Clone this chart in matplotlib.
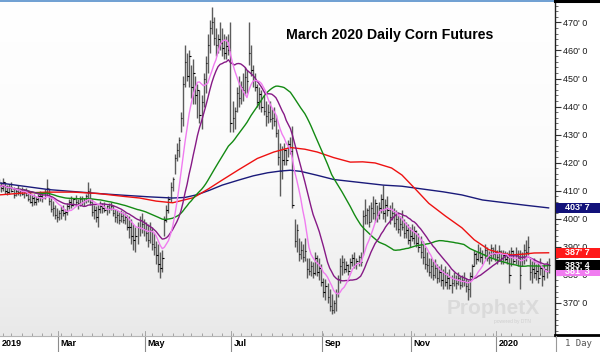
import numpy as np
import pandas as pd
import matplotlib
matplotlib.use('Agg')
import matplotlib.pyplot as plt
from matplotlib import transforms
from matplotlib.patches import Rectangle
from matplotlib.colors import LinearSegmentedColormap
from matplotlib.ticker import MultipleLocator

# trading days, CME holidays removed
holidays = ['2019-01-21', '2019-02-18', '2019-04-19', '2019-05-27', '2019-07-04',
            '2019-09-02', '2019-11-28', '2019-12-25', '2020-01-01', '2020-01-20']
dates = pd.bdate_range('2019-01-17', '2020-02-07', freq='C', holidays=holidays)

high = [414, 413, 414.5, 413, 412, 412.5, 413, 411.5, 411, 412,
        411, 411.5, 410.5, 411, 410, 409.5, 408.5, 409, 408, 409,
        410, 409.5, 410.5, 414, 411, 408, 406.5, 405, 404, 403,
        404.5, 405, 403.5, 405.5, 407, 408, 407.5, 408.5, 407, 408,
        408, 407.5, 409, 413, 411, 407, 405, 404.5, 405, 406.5,
        405.5, 406, 405, 405.5, 406, 405, 403.5, 403, 402.5, 403,
        402.5, 402, 401.5, 401, 400, 398, 397, 399, 401, 402,
        400, 399, 398, 399, 397, 395, 392, 391, 388, 389,
        401, 405, 408, 413, 415, 423, 427, 429, 438, 451,
        462, 459, 460, 455, 457, 451, 448, 446, 444, 452,
        458, 466, 471, 475.5, 472, 468, 466, 470, 468, 466,
        465, 466, 470, 442, 440, 447, 451, 449, 452, 454,
        453, 470, 462, 455, 452, 448, 447, 446, 444, 442,
        441, 442, 439, 440, 437, 432, 427, 426, 427, 425,
        428, 429, 433, 400, 398, 393, 392, 391, 393, 386,
        386, 385, 384.5, 388, 387, 386, 384, 379, 378.5, 377,
        375, 373, 371, 375, 380, 386, 387, 386, 385, 384,
        386, 387.5, 388, 386, 387, 388, 403, 407, 404, 405,
        406, 408, 407, 405, 406, 409, 412, 407, 408, 405,
        406, 404, 403, 402.5, 401, 403, 400, 399, 398, 397,
        398, 397.5, 396, 395, 394, 392, 390, 388, 386, 386,
        385, 385.5, 384, 383, 384, 382, 383, 381, 382, 380,
        381, 380, 381, 379.5, 380, 381, 379, 378, 381, 384,
        389, 388, 391, 390, 389, 391, 390, 388.5, 391, 390,
        391, 389, 390.5, 389, 389, 388.5, 388, 389, 390, 389,
        390, 389, 389, 388, 391, 392.5, 394, 386, 385, 386,
        384, 385, 386, 383, 384, 385, 386]

low = [410, 409.5, 410, 409, 408.5, 409, 409.5, 407.5, 408, 408.5,
       408, 408.5, 407.5, 408, 406.5, 405.5, 404.5, 405, 405, 406,
       406.5, 406, 407, 408, 405, 402.5, 401, 400, 399, 399.5,
       400, 401, 399.5, 401.5, 403.5, 404, 404.5, 405, 403.5, 404.5,
       405, 404.5, 405.5, 406, 405, 401, 400, 399, 397, 402,
       402, 402.5, 401.5, 402, 403, 401, 399, 398.5, 398, 399,
       398.5, 398, 396, 393, 391, 389, 388, 391, 394, 395,
       394, 392, 390, 391.5, 389, 387, 384, 381, 379, 381,
       394, 399, 402, 406, 410, 416, 420.5, 422, 431, 433,
       447, 449, 447, 443, 441, 441, 436, 434, 432, 440,
       445, 452, 459, 466, 462, 458, 459, 460, 458, 457,
       457, 458.5, 431, 431, 432, 438, 440, 441, 442, 444,
       445, 455, 451, 447, 445.5, 440, 439, 438, 437, 433,
       434, 434.5, 432, 433, 429, 419, 408, 414, 419, 419,
       422, 423, 404, 390, 388, 385, 385.5, 384.5, 385, 379,
       380, 379.5, 379, 380, 379.5, 378, 376, 372, 371, 370,
       367, 366, 366.5, 367, 372, 377, 380, 380.5, 381, 380,
       382, 383, 382.5, 382, 383, 383, 387, 398, 398, 397,
       399, 400, 399, 399, 400, 402, 400, 399, 401, 398,
       399.5, 397, 396, 395, 394, 396, 393, 393, 391, 390,
       392, 391, 390, 388, 386, 384, 382, 381, 379.5, 379,
       378, 379, 377, 377.5, 376, 375, 376, 375, 375, 373.5,
       376, 375, 376.5, 375, 375.5, 376, 374, 371, 372, 379,
       383, 384, 385, 384.5, 384, 385.5, 385, 384, 385, 386,
       385, 384, 385, 384, 384, 385, 384, 377, 383, 384,
       384, 383, 375, 383, 384, 385, 387, 378, 377, 379,
       378, 377, 380, 376, 378, 379, 380.5]

close = [412, 411, 413, 410, 409.5, 411.5, 410, 408.5, 410, 409.5,
         410, 409, 409.5, 408.5, 407, 406, 407.5, 406, 407, 408,
         408, 407.5, 409.5, 411, 406.5, 403.5, 404, 401.5, 400.5, 402,
         403, 402, 402.5, 404.5, 406, 405, 407, 406, 405.5, 407,
         406, 406.5, 408, 410, 406, 402.5, 403, 400.5, 403.5, 404.5,
         404, 403, 404.5, 404, 404.5, 402, 400.5, 401.5, 399.5, 401,
         399.5, 400.5, 397, 397, 394, 392.5, 394, 397, 399.5, 398,
         396.5, 395, 392.5, 396, 391, 390, 387, 384, 382.5, 386,
         399.5, 403, 407, 411.5, 414, 421.5, 424.5, 428, 436, 448,
         456, 451, 458, 447, 452, 444, 446, 437, 441.5, 450,
         455.5, 462, 468, 470, 464.5, 462, 464, 462.5, 461, 459,
         461.5, 460, 434, 436, 438.5, 445, 443, 447, 446, 450.5,
         449, 459, 453, 449.5, 447, 441.5, 444.5, 440, 438.5, 436.5,
         438, 435.5, 436, 435, 430.5, 422, 417, 421, 424.5, 421,
         426.5, 424, 405, 392, 396, 387.5, 389, 386.5, 388.5, 382,
         381.5, 383, 380.5, 386, 381, 382.5, 377.5, 374, 376, 372,
         369, 367.5, 370, 373.5, 378.5, 383, 384.5, 382, 383.5, 381.5,
         384.5, 386, 383.5, 385, 386.5, 384.5, 401, 401.5, 403, 399,
         404, 402, 405.5, 401.5, 404, 407, 402, 405, 403, 400.5,
         402, 398.5, 400, 396.5, 398, 397, 395, 396, 392.5, 394,
         393, 395.5, 391.5, 390, 388, 386.5, 384, 383.5, 381, 383,
         380, 382.5, 379, 381, 378, 380.5, 377.5, 379, 376.5, 377,
         378.5, 377, 379, 376.5, 378, 377.5, 376, 375, 379.5, 383,
         387.5, 385.5, 388, 386.5, 387.5, 389, 386, 387, 389.5, 387.5,
         388, 386.5, 388.5, 386, 387, 385.5, 386.5, 380, 388.5, 385,
         387.5, 386, 380, 386.5, 389, 388, 390, 381, 382, 380.5,
         381.5, 379, 382.5, 379.5, 382, 381.5, 383.5]

# 100 and 200 day averages (they need history before the first bar)
red_idx = [0, 12, 24, 36, 48, 60, 68, 76, 84, 94, 101, 108, 116, 125, 133, 141, 148,
           154, 162, 170, 176, 182, 190, 195, 201, 208, 216, 224, 230, 237, 243, 248,
           254, 259, 266]
red_val = [408.5, 409.2, 409.5, 409.5, 409.0, 408.0, 407.4, 406.3, 405.7, 407.5, 410.5,
           413.8, 417.5, 421.5, 423.8, 425.4, 424.8, 423.8, 421.8, 420.2, 420.3, 419.9,
           418.1, 415.6, 411.0, 405.5, 401.0, 396.8, 392.5, 389.0, 387.7, 387.1, 387.4,
           387.8, 387.875]
blue_idx = [0, 12, 24, 36, 48, 60, 73, 84, 90, 96, 102, 108, 116, 123, 130, 136, 141,
            146, 154, 162, 174, 186, 195, 205, 215, 224, 234, 245, 255, 266]
blue_val = [412.8, 411.6, 410.4, 409.7, 409.0, 408.4, 407.8, 407.4, 407.6, 408.6, 410.2,
            412.0, 413.8, 415.3, 416.4, 417.0, 417.3, 416.9, 415.5, 414.0, 413.0, 412.0,
            411.6, 410.6, 409.6, 408.5, 406.7, 405.7, 404.8, 403.875]

month_labels = ['Mar', 'May', 'Jul', 'Sep', 'Nov', '2020']
month_days = ['2019-03-01', '2019-05-01', '2019-07-01', '2019-09-03', '2019-11-01', '2020-01-02']


def fmt(v):
    whole = int(v)
    return "%d' %d" % (whole, int(round((v - whole) * 8)))


fig = plt.figure(figsize=(6, 3.52), dpi=100)
fig.patch.set_facecolor('white')
ax = fig.add_axes([0, 16 / 352, 555 / 600, 336 / 352])

grad = np.linspace(0, 1, 256).reshape(-1, 1)
bg = LinearSegmentedColormap.from_list('bg', ['#e9e9e9', '#fbfbfb', '#ffffff'])
ax.imshow(grad, extent=[0, 1, 0, 1], transform=ax.transAxes, cmap=bg,
          aspect='auto', origin='lower', zorder=0)

x = np.arange(len(close))
ax.vlines(x, low, high, color='#5c5c5c', lw=1.0, zorder=2)
ax.hlines(close, x, x + 0.7, color='black', lw=0.8, zorder=2)

s = pd.Series(close)
pink = s.rolling(9, min_periods=1).mean()
purple = s.rolling(18, min_periods=1).mean()
green = s.rolling(50, min_periods=1).mean()

ax.plot(blue_idx, blue_val, color='#1a1a7a', lw=1.0, zorder=3)
ax.plot(red_idx, red_val, color='#ee1111', lw=1.0, zorder=3)
ax.plot(x, green, color='#138a13', lw=1.0, zorder=3)
ax.plot(x, purple, color='#861a86', lw=1.0, zorder=3)
ax.plot(x, pink, color='#f07cf0', lw=1.0, zorder=3)

ax.set_xlim(0.44, 269.1)
ax.set_ylim(358.2, 478.0)

ax.yaxis.tick_right()
ax.set_yticks(range(370, 480, 10))
ax.set_yticklabels([fmt(v) for v in range(370, 480, 10)])
ax.yaxis.set_minor_locator(MultipleLocator(2))
ax.tick_params(axis='y', which='major', direction='out', length=4, width=0.8,
               color='#333333', labelsize=6.5, pad=2, labelcolor='#1a1a1a')
ax.tick_params(axis='y', which='minor', direction='out', length=2, width=0.6, color='#555555')
for lab in ax.get_yticklabels():
    lab.set_family('Liberation Sans')

# weekly ticks along the bottom edge
weeks = [i for i in range(1, len(dates)) if dates[i].weekday() < dates[i - 1].weekday()]
ax.set_xticks([])
ax.set_xticks(weeks, minor=True)
ax.tick_params(axis='x', which='minor', direction='in', length=2.5, width=0.6, color='#9a9a9a')

for sp in ['top', 'left']:
    ax.spines[sp].set_visible(False)
ax.spines['right'].set_color('#222222')
ax.spines['right'].set_linewidth(1.0)
ax.spines['bottom'].set_color('#b5b5b5')
ax.spines['bottom'].set_linewidth(0.8)

# month labels in the date strip
tr = transforms.blended_transform_factory(ax.transData, ax.transAxes)
ax.text(1.2, -8 / 336, '2019', transform=tr, fontsize=6.5, fontweight='bold',
        family='Liberation Sans', ha='left', va='center', clip_on=False)
for lab, d in zip(month_labels, month_days):
    pos = dates.get_loc(pd.Timestamp(d)) - 0.5
    ax.plot([pos, pos], [0, -16 / 336], transform=tr, color='#8c8c8c', lw=0.8, clip_on=False)
    ax.plot([pos, pos], [0, 5 / 336], transform=tr, color='#9a9a9a', lw=0.6, clip_on=False)
    ax.text(pos + 1.2, -8 / 336, lab, transform=tr, fontsize=6.5, fontweight='bold',
            family='Liberation Sans', ha='left', va='center', clip_on=False)

# last value tags on the price scale
tv = transforms.blended_transform_factory(ax.transAxes, ax.transData)
h = 10 / 2.805


def tag(v, fc):
    ax.add_patch(Rectangle((1.0015, v - h / 2), 44 / 555, h, transform=tv, fc=fc, ec='none',
                           clip_on=False, zorder=5))
    ax.text(1 + 22 / 555, v, fmt(v), transform=tv, color='white', fontsize=6.5,
            fontweight='bold', family='Liberation Sans', ha='center', va='center',
            clip_on=False, zorder=6)


tag(pink.iloc[-1], '#f07cf0')
tag(close[-1], '#000000')
tag(red_val[-1], '#ff1a1a')
tag(blue_val[-1], '#12127a')

fig.text(390 / 600, 1 - 35 / 352, 'March 2020 Daily Corn Futures', fontsize=10.2,
         fontweight='bold', family='Liberation Sans', ha='center', va='center')
fig.text(493 / 600, 1 - 309 / 352, 'ProphetX', fontsize=15, fontweight='bold',
         color='#dadada', family='Liberation Sans', ha='center', va='center')
fig.text(512 / 600, 1 - 322 / 352, 'powered by DTN', fontsize=3.5, color='#cfcfcf',
         family='Liberation Sans', ha='center', va='center')
fig.text(578 / 600, 1 - 344 / 352, '1 Day', fontsize=6.5, color='#555555',
         family='DejaVu Sans Mono', ha='center', va='center')

# frame pieces
fig.add_artist(plt.Line2D([0, 555 / 600], [1 - 0.7 / 352, 1 - 0.7 / 352], color='#6e9fd2', lw=1.4))
fig.add_artist(plt.Line2D([555 / 600, 1], [1 - 1 / 352, 1 - 1 / 352], color='black', lw=2.2))
fig.add_artist(plt.Line2D([555 / 600, 1], [17 / 352, 17 / 352], color='black', lw=2.0))
fig.add_artist(plt.Line2D([555.5 / 600, 555.5 / 600], [0, 16 / 352], color='#999999', lw=0.8))

fig.savefig('out.png', dpi=100)
